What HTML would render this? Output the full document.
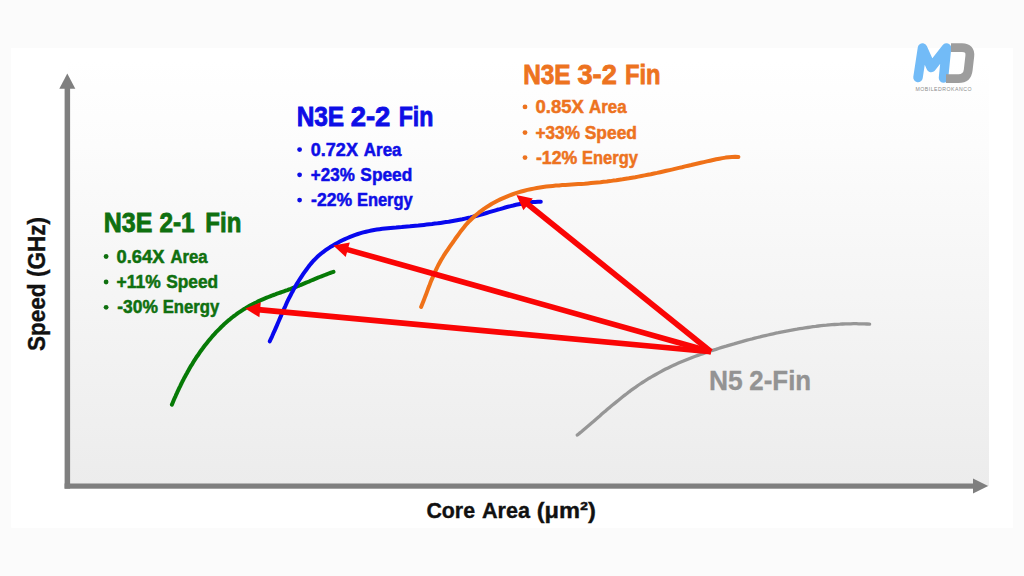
<!DOCTYPE html>
<html><head><meta charset="utf-8"><style>html,body{margin:0;padding:0;background:#fbfbfb;width:1024px;height:576px;overflow:hidden}
text{font-family:"Liberation Sans",sans-serif;font-weight:bold}</style></head><body>
<svg width="1024" height="576" viewBox="0 0 1024 576" style="display:block">
<defs><linearGradient id="bg" gradientUnits="userSpaceOnUse" x1="0" y1="60" x2="0" y2="486">
<stop offset="0" stop-color="#ffffff"/><stop offset="0.2" stop-color="#fcfcfc"/><stop offset="1" stop-color="#ececec"/></linearGradient></defs>
<rect x="0" y="0" width="1024" height="576" fill="#fbfbfb"/>
<rect x="11.2" y="47.9" width="1001.8" height="480" fill="#ffffff"/>
<rect x="67" y="60" width="922" height="426" fill="url(#bg)"/>
<g fill="none" stroke-linecap="round" stroke-linejoin="round" stroke-width="4">
<path d="M577.3 435.1 L579.3 433.4 L581.4 431.7 L583.4 430.0 L585.5 428.2 L587.5 426.5 L589.6 424.7 L591.6 423.0 L593.7 421.2 L595.7 419.4 L597.7 417.7 L599.8 415.9 L601.8 414.1 L603.9 412.3 L606.0 410.6 L608.0 408.8 L610.1 407.1 L612.2 405.3 L614.3 403.6 L616.4 401.9 L618.5 400.2 L620.6 398.5 L622.7 396.8 L624.8 395.1 L627.0 393.5 L629.1 391.8 L631.3 390.2 L633.5 388.6 L635.7 387.1 L637.9 385.5 L640.1 384.0 L642.4 382.5 L644.6 381.1 L646.9 379.6 L649.2 378.2 L651.5 376.9 L653.9 375.5 L656.2 374.2 L658.6 372.9 L660.9 371.6 L663.3 370.3 L665.7 369.1 L668.1 367.9 L670.5 366.7 L673.0 365.6 L675.4 364.4 L677.9 363.3 L680.3 362.2 L682.8 361.2 L685.3 360.2 L687.8 359.2 L690.3 358.2 L692.8 357.2 L695.4 356.3 L697.9 355.4 L700.5 354.5 L703.0 353.6 L705.6 352.7 L708.1 351.8 L710.7 351.0 L713.3 350.2 L715.9 349.4 L718.4 348.5 L721.0 347.7 L723.6 346.9 L726.2 346.2 L728.8 345.4 L731.4 344.6 L734.0 343.9 L736.6 343.1 L739.2 342.4 L741.8 341.7 L744.4 340.9 L747.0 340.2 L749.6 339.5 L752.2 338.9 L754.8 338.2 L757.4 337.5 L760.0 336.9 L762.7 336.2 L765.3 335.6 L767.9 335.0 L770.5 334.4 L773.2 333.8 L775.8 333.2 L778.4 332.7 L781.1 332.1 L783.7 331.6 L786.4 331.1 L789.0 330.6 L791.7 330.1 L794.3 329.6 L797.0 329.2 L799.7 328.7 L802.3 328.3 L805.0 327.9 L807.7 327.5 L810.3 327.1 L813.0 326.7 L815.7 326.4 L818.4 326.0 L821.1 325.7 L823.8 325.4 L826.5 325.2 L829.2 324.9 L831.9 324.7 L834.5 324.5 L837.2 324.3 L839.9 324.2 L842.6 324.0 L845.3 323.9 L848.0 323.8 L850.7 323.8 L853.4 323.7 L856.1 323.7 L858.8 323.8 L861.5 323.8 L864.2 323.9 L866.9 324.0 L869.6 324.2" stroke="#969696" stroke-width="3.3"/>
<path d="M171.9 404.6 L172.6 403.0 L173.3 401.3 L174.0 399.6 L174.7 397.9 L175.5 396.3 L176.2 394.6 L177.0 392.9 L177.7 391.3 L178.5 389.6 L179.3 387.9 L180.1 386.3 L180.9 384.6 L181.7 383.0 L182.5 381.3 L183.4 379.7 L184.2 378.0 L185.1 376.4 L186.0 374.8 L186.9 373.2 L187.8 371.5 L188.7 369.9 L189.6 368.3 L190.5 366.7 L191.5 365.2 L192.5 363.6 L193.4 362.0 L194.4 360.4 L195.4 358.9 L196.4 357.3 L197.5 355.8 L198.5 354.3 L199.5 352.8 L200.6 351.2 L201.7 349.7 L202.8 348.3 L203.9 346.8 L205.0 345.3 L206.1 343.9 L207.3 342.4 L208.4 341.0 L209.6 339.6 L210.8 338.2 L212.0 336.8 L213.2 335.4 L214.4 334.1 L215.6 332.7 L216.9 331.4 L218.2 330.1 L219.5 328.8 L220.8 327.5 L222.1 326.2 L223.4 325.0 L224.7 323.7 L226.1 322.5 L227.5 321.3 L228.9 320.1 L230.3 319.0 L231.7 317.8 L233.1 316.7 L234.6 315.6 L236.1 314.5 L237.5 313.4 L239.0 312.4 L240.6 311.3 L242.1 310.3 L243.6 309.3 L245.2 308.4 L246.8 307.4 L248.4 306.5 L250.0 305.6 L251.6 304.7 L253.3 303.9 L254.9 303.0 L256.6 302.2 L258.2 301.4 L259.9 300.6 L261.6 299.8 L263.3 299.1 L265.0 298.4 L266.7 297.7 L268.4 297.0 L270.1 296.3 L271.8 295.6 L273.6 295.0 L275.3 294.4 L277.0 293.7 L278.7 293.1 L280.5 292.5 L282.2 291.9 L283.9 291.3 L285.6 290.7 L287.4 290.1 L289.1 289.4 L290.8 288.8 L292.5 288.1 L294.2 287.5 L295.9 286.8 L297.6 286.1 L299.3 285.5 L301.0 284.8 L302.7 284.1 L304.4 283.4 L306.1 282.7 L307.8 282.0 L309.5 281.3 L311.2 280.5 L312.9 279.8 L314.6 279.1 L316.3 278.4 L318.0 277.7 L319.7 277.0 L321.5 276.3 L323.2 275.7 L324.9 275.0 L326.6 274.3 L328.3 273.7 L330.0 273.0 L331.8 272.4 L333.5 271.8" stroke="#067a06"/>
<path d="M269.8 341.3 L270.9 338.8 L272.1 336.3 L273.2 333.7 L274.4 331.2 L275.5 328.6 L276.6 326.1 L277.7 323.5 L278.8 321.0 L279.9 318.4 L281.0 315.9 L282.1 313.3 L283.2 310.8 L284.3 308.3 L285.5 305.8 L286.6 303.2 L287.8 300.7 L289.0 298.2 L290.3 295.8 L291.5 293.3 L292.9 290.9 L294.2 288.4 L295.6 286.0 L297.0 283.6 L298.5 281.2 L300.0 278.9 L301.5 276.6 L303.1 274.2 L304.7 271.9 L306.3 269.7 L308.0 267.4 L309.6 265.2 L311.4 263.1 L313.2 261.0 L315.1 259.1 L317.1 257.1 L319.1 255.3 L321.2 253.5 L323.4 251.8 L325.6 250.2 L327.9 248.6 L330.2 247.1 L332.6 245.7 L335.0 244.3 L337.4 242.9 L339.9 241.6 L342.4 240.3 L344.9 239.1 L347.5 238.0 L350.1 236.9 L352.7 235.9 L355.3 234.9 L357.9 234.0 L360.6 233.2 L363.3 232.4 L366.0 231.7 L368.7 231.1 L371.4 230.5 L374.1 230.0 L376.8 229.6 L379.6 229.2 L382.3 228.8 L385.1 228.5 L387.8 228.2 L390.6 227.9 L393.4 227.7 L396.1 227.5 L398.9 227.2 L401.7 227.0 L404.5 226.7 L407.2 226.5 L410.0 226.3 L412.8 226.0 L415.5 225.7 L418.3 225.5 L421.1 225.2 L423.9 224.9 L426.6 224.6 L429.4 224.3 L432.1 224.0 L434.9 223.6 L437.7 223.3 L440.4 222.9 L443.2 222.5 L445.9 222.1 L448.7 221.7 L451.4 221.2 L454.1 220.7 L456.9 220.2 L459.6 219.7 L462.3 219.2 L465.0 218.6 L467.7 218.0 L470.4 217.4 L473.1 216.7 L475.8 216.0 L478.5 215.3 L481.2 214.6 L483.9 213.8 L486.5 213.0 L489.2 212.2 L491.9 211.4 L494.6 210.6 L497.2 209.8 L499.9 209.1 L502.6 208.3 L505.2 207.5 L507.9 206.8 L510.6 206.1 L513.3 205.5 L516.0 204.8 L518.7 204.2 L521.4 203.7 L524.2 203.2 L526.9 202.8 L529.7 202.4 L532.4 202.1 L535.2 201.9 L538.0 201.7 L540.8 201.7" stroke="#0808ee"/>
<path d="M421.1 306.9 L422.3 304.0 L423.5 301.0 L424.6 298.1 L425.8 295.1 L426.9 292.1 L428.0 289.1 L429.2 286.1 L430.3 283.1 L431.5 280.1 L432.8 277.1 L434.0 274.2 L435.3 271.3 L436.7 268.4 L438.1 265.5 L439.6 262.7 L441.1 260.0 L442.8 257.3 L444.4 254.6 L446.2 251.9 L448.0 249.3 L449.8 246.7 L451.6 244.1 L453.5 241.5 L455.3 238.8 L457.2 236.2 L459.1 233.6 L461.0 230.9 L463.0 228.4 L465.0 225.9 L467.1 223.5 L469.3 221.2 L471.6 219.0 L473.9 216.8 L476.3 214.7 L478.8 212.7 L481.3 210.8 L483.9 208.9 L486.5 207.2 L489.2 205.5 L491.9 203.8 L494.7 202.3 L497.5 200.8 L500.3 199.4 L503.2 198.1 L506.2 196.8 L509.1 195.6 L512.1 194.5 L515.1 193.4 L518.2 192.4 L521.3 191.5 L524.3 190.7 L527.4 189.9 L530.6 189.2 L533.7 188.6 L536.8 188.0 L540.0 187.5 L543.1 187.0 L546.3 186.6 L549.5 186.2 L552.7 185.9 L555.8 185.6 L559.0 185.4 L562.2 185.1 L565.4 184.9 L568.6 184.7 L571.8 184.5 L575.0 184.3 L578.2 184.1 L581.4 183.9 L584.6 183.7 L587.8 183.4 L590.9 183.1 L594.1 182.8 L597.3 182.5 L600.5 182.2 L603.6 181.8 L606.8 181.5 L610.0 181.1 L613.1 180.6 L616.3 180.2 L619.4 179.7 L622.6 179.3 L625.7 178.8 L628.9 178.3 L632.0 177.7 L635.2 177.2 L638.3 176.6 L641.4 176.0 L644.6 175.4 L647.7 174.8 L650.8 174.2 L654.0 173.5 L657.1 172.9 L660.2 172.2 L663.3 171.5 L666.4 170.8 L669.6 170.1 L672.7 169.4 L675.8 168.6 L678.9 167.9 L682.0 167.2 L685.1 166.4 L688.2 165.7 L691.3 165.0 L694.5 164.2 L697.6 163.5 L700.7 162.8 L703.8 162.1 L706.9 161.4 L710.0 160.7 L713.1 160.0 L716.2 159.3 L719.4 158.7 L722.5 158.1 L725.6 157.6 L728.8 157.2 L732.0 157.0 L735.2 156.8 L738.4 156.9" stroke="#ef7118"/>
</g>
<line x1="711.0" y1="351.8" x2="258.1" y2="309.6" stroke="#fa0505" stroke-width="5.6"/><polygon fill="#fa0505" points="245.2,308.4 260.8,302.3 259.4,317.3"/><line x1="711.0" y1="351.8" x2="345.8" y2="249.1" stroke="#fa0505" stroke-width="5.6"/><polygon fill="#fa0505" points="333.3,245.6 349.8,242.4 345.7,256.9"/><line x1="711.0" y1="351.8" x2="526.5" y2="203.2" stroke="#fa0505" stroke-width="5.6"/><polygon fill="#fa0505" points="516.4,195.0 532.8,198.6 523.4,210.3"/>
<rect x="64.6" y="86" width="5.5" height="402.6" fill="#7f7f7f"/>
<polygon points="67.3,73.5 59.3,88.8 75.3,88.8" fill="#7f7f7f"/>
<rect x="64.6" y="483.5" width="910" height="5.2" fill="#7f7f7f"/>
<polygon points="988.2,486.1 973,478.6 973,493.6" fill="#7f7f7f"/>
<g font-family="Liberation Sans, sans-serif" font-weight="bold">
<text x="103.74" y="232.2" font-size="27.0" fill="#0f700f" stroke="#0f700f" stroke-width="0.85" textLength="48.56" lengthAdjust="spacingAndGlyphs">N3E</text>
<text x="159.45" y="232.2" font-size="27.0" fill="#0f700f" stroke="#0f700f" stroke-width="0.85" textLength="35.20" lengthAdjust="spacingAndGlyphs">2-1</text>
<text x="205.30" y="232.2" font-size="27.0" fill="#0f700f" stroke="#0f700f" stroke-width="0.85" textLength="36.00" lengthAdjust="spacingAndGlyphs">Fin</text>
<text x="296.67" y="126.2" font-size="27.0" fill="#0e0ee6" stroke="#0e0ee6" stroke-width="0.85" textLength="47.51" lengthAdjust="spacingAndGlyphs">N3E</text>
<text x="350.74" y="126.2" font-size="27.0" fill="#0e0ee6" stroke="#0e0ee6" stroke-width="0.85" textLength="39.65" lengthAdjust="spacingAndGlyphs">2-2</text>
<text x="398.66" y="126.2" font-size="27.0" fill="#0e0ee6" stroke="#0e0ee6" stroke-width="0.85" textLength="34.69" lengthAdjust="spacingAndGlyphs">Fin</text>
<text x="523.18" y="84.2" font-size="27.0" fill="#ed731f" stroke="#ed731f" stroke-width="0.85" textLength="47.40" lengthAdjust="spacingAndGlyphs">N3E</text>
<text x="577.50" y="84.2" font-size="27.0" fill="#ed731f" stroke="#ed731f" stroke-width="0.85" textLength="39.28" lengthAdjust="spacingAndGlyphs">3-2</text>
<text x="625.02" y="84.2" font-size="27.0" fill="#ed731f" stroke="#ed731f" stroke-width="0.85" textLength="35.56" lengthAdjust="spacingAndGlyphs">Fin</text>
<text x="708.89" y="389.5" font-size="27.0" fill="#939393" stroke="#939393" stroke-width="0.35" textLength="33.75" lengthAdjust="spacingAndGlyphs">N5</text>
<text x="749.35" y="389.5" font-size="27.0" fill="#939393" stroke="#939393" stroke-width="0.35" textLength="61.83" lengthAdjust="spacingAndGlyphs">2-Fin</text>
<circle cx="106.1" cy="256.5" r="2.4" fill="#0f700f"/>
<text x="116.57" y="262.5" font-size="17.6" fill="#0f700f" stroke="#0f700f" stroke-width="0.50" textLength="47.93" lengthAdjust="spacingAndGlyphs">0.64X</text>
<text x="170.38" y="262.5" font-size="17.6" fill="#0f700f" stroke="#0f700f" stroke-width="0.50" textLength="37.16" lengthAdjust="spacingAndGlyphs">Area</text>
<circle cx="106.1" cy="282.0" r="2.4" fill="#0f700f"/>
<text x="116.61" y="288.0" font-size="17.6" fill="#0f700f" stroke="#0f700f" stroke-width="0.50" textLength="44.07" lengthAdjust="spacingAndGlyphs">+11%</text>
<text x="166.16" y="288.0" font-size="17.6" fill="#0f700f" stroke="#0f700f" stroke-width="0.50" textLength="51.94" lengthAdjust="spacingAndGlyphs">Speed</text>
<circle cx="106.1" cy="307.3" r="2.4" fill="#0f700f"/>
<text x="117.31" y="313.3" font-size="17.6" fill="#0f700f" stroke="#0f700f" stroke-width="0.50" textLength="40.61" lengthAdjust="spacingAndGlyphs">-30%</text>
<text x="162.71" y="313.3" font-size="17.6" fill="#0f700f" stroke="#0f700f" stroke-width="0.50" textLength="56.58" lengthAdjust="spacingAndGlyphs">Energy</text>
<circle cx="299.6" cy="149.6" r="2.4" fill="#0e0ee6"/>
<text x="310.78" y="155.6" font-size="17.6" fill="#0e0ee6" stroke="#0e0ee6" stroke-width="0.50" textLength="47.21" lengthAdjust="spacingAndGlyphs">0.72X</text>
<text x="363.87" y="155.6" font-size="17.6" fill="#0e0ee6" stroke="#0e0ee6" stroke-width="0.50" textLength="37.56" lengthAdjust="spacingAndGlyphs">Area</text>
<circle cx="299.6" cy="174.8" r="2.4" fill="#0e0ee6"/>
<text x="310.83" y="180.8" font-size="17.6" fill="#0e0ee6" stroke="#0e0ee6" stroke-width="0.50" textLength="43.91" lengthAdjust="spacingAndGlyphs">+23%</text>
<text x="360.36" y="180.8" font-size="17.6" fill="#0e0ee6" stroke="#0e0ee6" stroke-width="0.50" textLength="51.94" lengthAdjust="spacingAndGlyphs">Speed</text>
<circle cx="299.6" cy="200.1" r="2.4" fill="#0e0ee6"/>
<text x="311.10" y="206.1" font-size="17.6" fill="#0e0ee6" stroke="#0e0ee6" stroke-width="0.50" textLength="41.03" lengthAdjust="spacingAndGlyphs">-22%</text>
<text x="356.88" y="206.1" font-size="17.6" fill="#0e0ee6" stroke="#0e0ee6" stroke-width="0.50" textLength="55.92" lengthAdjust="spacingAndGlyphs">Energy</text>
<circle cx="525.0" cy="106.9" r="2.4" fill="#ed731f"/>
<text x="535.46" y="112.9" font-size="17.6" fill="#ed731f" stroke="#ed731f" stroke-width="0.50" textLength="48.39" lengthAdjust="spacingAndGlyphs">0.85X</text>
<text x="588.97" y="112.9" font-size="17.6" fill="#ed731f" stroke="#ed731f" stroke-width="0.50" textLength="37.56" lengthAdjust="spacingAndGlyphs">Area</text>
<circle cx="525.0" cy="132.6" r="2.4" fill="#ed731f"/>
<text x="535.52" y="138.6" font-size="17.6" fill="#ed731f" stroke="#ed731f" stroke-width="0.50" textLength="44.42" lengthAdjust="spacingAndGlyphs">+33%</text>
<text x="584.76" y="138.6" font-size="17.6" fill="#ed731f" stroke="#ed731f" stroke-width="0.50" textLength="52.25" lengthAdjust="spacingAndGlyphs">Speed</text>
<circle cx="525.0" cy="157.6" r="2.4" fill="#ed731f"/>
<text x="535.90" y="163.6" font-size="17.6" fill="#ed731f" stroke="#ed731f" stroke-width="0.50" textLength="41.34" lengthAdjust="spacingAndGlyphs">-12%</text>
<text x="581.98" y="163.6" font-size="17.6" fill="#ed731f" stroke="#ed731f" stroke-width="0.50" textLength="55.92" lengthAdjust="spacingAndGlyphs">Energy</text>
<text x="426.38" y="517.7" font-size="22.8" fill="#111" stroke="#111" stroke-width="0.40" textLength="48.66" lengthAdjust="spacingAndGlyphs">Core</text>
<text x="481.95" y="517.7" font-size="22.8" fill="#111" stroke="#111" stroke-width="0.40" textLength="47.99" lengthAdjust="spacingAndGlyphs">Area</text>
<text x="536.73" y="517.7" font-size="22.8" fill="#111" stroke="#111" stroke-width="0.40" textLength="59.05" lengthAdjust="spacingAndGlyphs">(μm²)</text>
<text transform="translate(44.7,351) rotate(-90)" font-size="23.5" fill="#111" stroke="#111" stroke-width="0.4" textLength="134" lengthAdjust="spacingAndGlyphs">Speed (GHz)</text>
</g>
<g fill="none" stroke-linecap="round" stroke-linejoin="round">
<path d="M918 77.5 L922.5 48 L931.2 67.5 L946.5 48 L943.5 78" stroke="#72bbf7" stroke-width="9.5"/>
<path d="M951 47.6 L962 47.6 Q970.6 47.6 969.8 56 L968.2 70 Q967.2 78.6 958.5 78.6 L946 78.6" stroke="#9d9d9d" stroke-width="8.8" stroke-linecap="butt"/>
</g>
<text x="915.5" y="90.8" font-size="5.2" fill="#8c8c8c" style="font-weight:normal" textLength="56" lengthAdjust="spacing" font-family="Liberation Sans, sans-serif">MOBILEDROKANCO</text>
</svg>
</body></html>
